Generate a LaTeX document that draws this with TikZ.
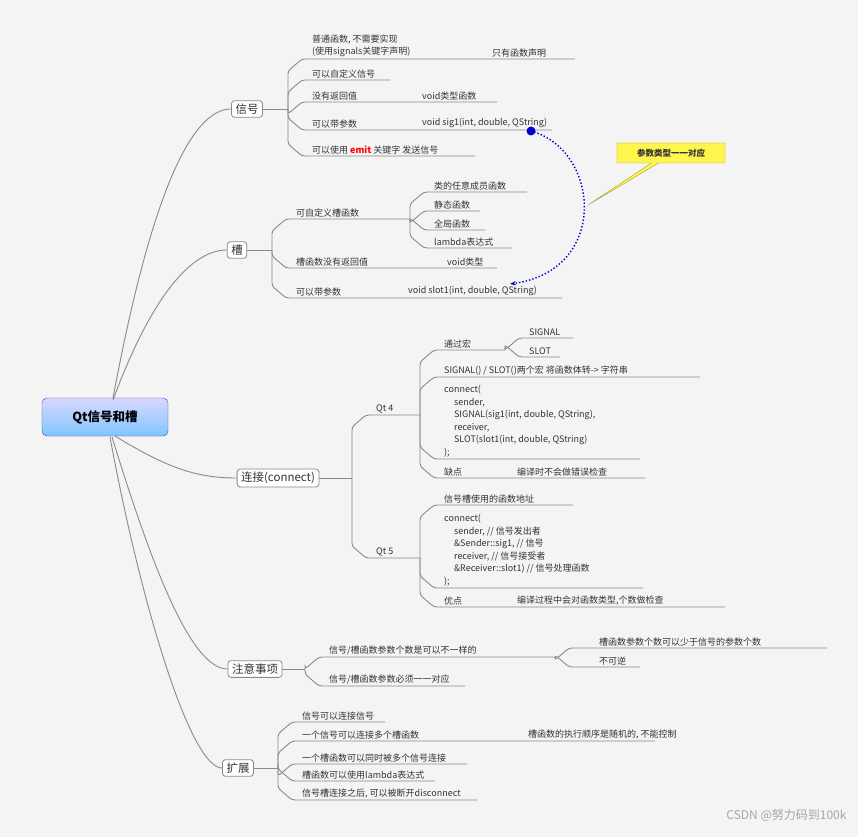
\documentclass[tikz,border=0pt]{standalone}
\usepackage{fontspec}
\setmainfont{Noto Sans CJK SC}
\usetikzlibrary{shapes.callouts,arrows.meta}
\definecolor{bg}{HTML}{F4F4F4}
\definecolor{ln}{HTML}{8A8A8A}
\definecolor{tx}{HTML}{333333}
\tikzset{
  br/.style={draw=ln,line width=0.9pt,rounded corners=3pt},
  leaf/.style={anchor=south west,inner xsep=0pt,inner ysep=2pt,text=tx,font=\fontsize{9}{12.5}\selectfont,align=left},
  mainbox/.style={draw=ln,fill=white,rounded corners=3pt,line width=0.8pt,text=tx,font=\fontsize{11.5}{13}\selectfont,inner xsep=4pt,inner ysep=3pt},
}
\newcommand\lf[6]{%#1 name,#2 fx,#3 fy,#4 y,#5 xend,#6 text
  \pgfmathsetmacro\lfmidy{#4-12*sign(#4-#3)}%
  \node[leaf] (#1) at (#2+24,#4) {#6};
  \draw[br] (#2,#3) -- (#2,\lfmidy) -- (#2+14,#4) -- (#5,#4);}
\begin{document}
\begin{tikzpicture}[x=1pt,y=-1pt]
\fill[bg] (0,0) rectangle (858,837);
\useasboundingbox (0,0) rectangle (858,837);
% root
\node[draw=blue!50!gray,rounded corners=5pt,top color=blue!15,bottom color=blue!45!cyan!50,minimum width=126pt,minimum height=38pt,font=\fontsize{12.5}{14}\bfseries\selectfont,text=black] (root) at (105,417) {Qt信号和槽};
% main nodes
\node[mainbox] (sig) at (247,109) {信号};
\node[mainbox] (slot) at (237,250) {槽};
\node[mainbox] (con) at (278,478) {连接(connect)};
\node[mainbox] (note) at (255,669) {注意事项};
\node[mainbox] (ext) at (238,768) {扩展};
\draw[br] (113,398) .. controls (150,200) and (190,109) .. (sig.west);
\draw[br] (113,400) .. controls (150,300) and (190,250) .. (slot.west);
\draw[br] (115,436) .. controls (170,470) and (200,478) .. (con.west);
\draw[br] (112,437) .. controls (150,560) and (190,669) .. (note.west);
\draw[br] (110,437) .. controls (140,600) and (190,768) .. (ext.west);
% signal branch
\draw[br] (sig.east) -- (288,109);
\lf{s1}{288}{109}{59}{575}{普通函数, 不需要实现\\(使用signals关键字声明)}
\node[leaf] (s1b) at (492,59) {只有函数声明};
\lf{s2}{288}{109}{80}{390}{可以自定义信号}
\lf{s3}{288}{109}{102}{497}{没有返回值}
\node[leaf] (s3b) at (422,102) {void类型函数};
\lf{s4}{288}{109}{130}{552}{可以带参数}
\node[leaf] (s4b) at (422,130) {void sig1(int, double, QString)};
\lf{s5}{288}{109}{156}{475}{可以使用 {\color{red}\bfseries emit} 关键字 发送信号}
% slot branch
\draw[br] (slot.east) -- (272,250);
\lf{t1}{272}{250}{219}{410}{可自定义槽函数}
\lf{t11}{410}{219}{192}{527}{类的任意成员函数}
\lf{t12}{410}{219}{211}{480}{静态函数}
\lf{t13}{410}{219}{230}{485}{全局函数}
\lf{t14}{410}{219}{248}{512}{lambda表达式}
\lf{t2}{272}{250}{268}{497}{槽函数没有返回值}
\node[leaf] (t2b) at (447,268) {void类型};
\lf{t3}{272}{250}{298}{562}{可以带参数}
\node[leaf] (t3b) at (408,298) {void slot1(int, double, QString)};
% dotted arrow & callout
\fill[blue!80!black] (531,131) circle (4.5pt);
\coordinate (dotA) at (531,131);
\coordinate (tipB) at (510,284);
\draw[blue!80!black,dotted,line width=1.4pt,-{Stealth[length=6pt]}] (dotA) .. controls (600,150) and (610,270) .. (tipB);
\node[rectangle callout,fill=yellow!70,draw=yellow!60!black,callout absolute pointer={(588,205)},font=\fontsize{8.5}{10}\bfseries\selectfont,text=tx,inner sep=3pt,minimum width=108pt,minimum height=20pt] (call) at (671,153) {参数类型一一对应};
% connect branch
\draw[br] (con.east) -- (352,478);
\lf{q4}{352}{478}{415}{420}{Qt 4}
\lf{q5}{352}{478}{558}{420}{Qt 5}
\lf{a1}{420}{415}{350}{505}{通过宏}
\lf{a11}{505}{350}{338}{573}{SIGNAL}
\lf{a12}{505}{350}{357}{560}{SLOT}
\lf{a2}{420}{415}{377}{700}{SIGNAL() / SLOT()两个宏 将函数体转-> 字符串}
\lf{a3}{420}{415}{459}{640}{connect(\\\hspace{1.1em}sender,\\\hspace{1.1em}SIGNAL(sig1(int, double, QString),\\\hspace{1.1em}receiver,\\\hspace{1.1em}SLOT(slot1(int, double, QString)\\);}
\lf{a4}{420}{415}{478}{645}{缺点}
\node[leaf] (a4b) at (517,478) {编译时不会做错误检查};
\lf{b1}{420}{558}{505}{573}{信号槽使用的函数地址}
\lf{b2}{420}{558}{588}{643}{connect(\\\hspace{1.1em}sender, // 信号发出者\\\hspace{1.1em}\&Sender::sig1, // 信号\\\hspace{1.1em}receiver, // 信号接受者\\\hspace{1.1em}\&Receiver::slot1) // 信号处理函数\\);}
\lf{b3}{420}{558}{607}{725}{优点}
\node[leaf] (b3b) at (517,607) {编译过程中会对函数类型,个数做检查};
% note branch
\draw[br] (note.east) -- (305,669);
\lf{n1}{305}{669}{657}{555}{信号/槽函数参数个数是可以不一样的}
\lf{n11}{555}{657}{648}{827}{\hspace{20pt}槽函数参数个数可以少于信号的参数个数}
\lf{n12}{555}{657}{667}{640}{\hspace{20pt}不可逆}
\lf{n2}{305}{669}{686}{465}{信号/槽函数参数必须一一对应}
% extension branch
\draw[br] (ext.east) -- (278,768);
\lf{e1}{278}{768}{722}{385}{信号可以连接信号}
\lf{e2}{278}{768}{741}{655}{一个信号可以连接多个槽函数}
\node[leaf] (e2b) at (528,741) {槽函数的执行顺序是随机的, 不能控制};
\lf{e3}{278}{768}{764}{467}{一个槽函数可以同时被多个信号连接}
\lf{e4}{278}{768}{781}{435}{槽函数可以使用lambda表达式}
\lf{e5}{278}{768}{800}{477}{信号槽连接之后, 可以被断开disconnect}
% watermark
\node[text=gray!70,font=\fontsize{12}{14}\selectfont,anchor=east] (wm) at (850,815) {CSDN @努力码到100k};
\end{tikzpicture}
\end{document}
